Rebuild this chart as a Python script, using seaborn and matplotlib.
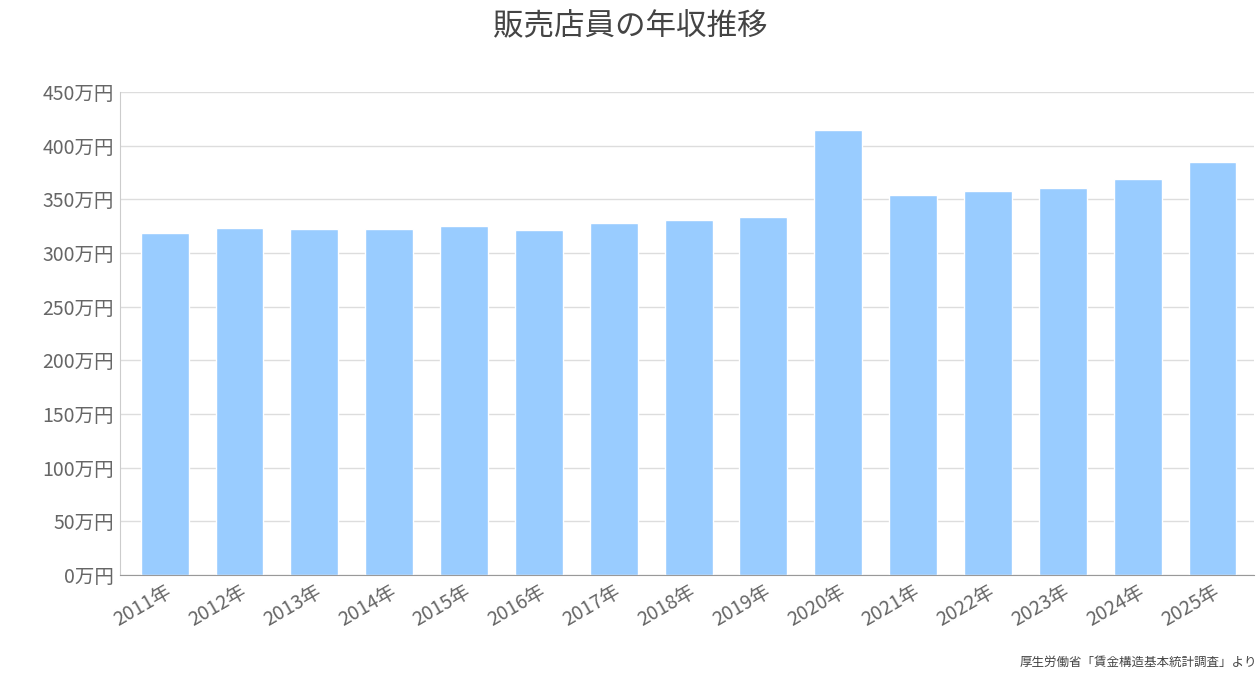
import matplotlib
matplotlib.use("Agg")
import matplotlib.pyplot as plt
import seaborn as sns
import pandas as pd

years = ["2011年","2012年","2013年","2014年","2015年","2016年","2017年","2018年",
         "2019年","2020年","2021年","2022年","2023年","2024年","2025年"]
values = [318.6,323.3,322.4,322.4,325.2,321.4,328.0,330.8,333.5,414.6,354.0,357.8,360.6,369.0,384.8]
yticks = [0,50,100,150,200,250,300,350,400,450]
ylabels = [f"{v}万円" for v in yticks]

sns.set_style("white")
plt.rcParams['font.family'] = ['Noto Sans CJK JP', 'DejaVu Sans']

df = pd.DataFrame({"year": years, "value": values})
fig = plt.figure(figsize=(12.6, 6.82), dpi=100)
ax = fig.add_axes([0.095, 0.157, 0.9, 0.708])
sns.barplot(data=df, x="year", y="value", color="#99CCFF", saturation=1, width=0.64, ax=ax)
ax.set_ylim(0, 450)
ax.set_xlim(-0.6, len(years) - 0.45)
ax.set_yticks(yticks)
ax.set_yticklabels(ylabels, fontsize=14, color="#666666")
ax.set_xticks(range(len(years)))
ax.set_xticklabels(years, rotation=30, ha="right", rotation_mode="anchor", fontsize=14, color="#666666")
ax.grid(axis="y", color="#dddddd", linewidth=1)
ax.set_axisbelow(True)
for s in ["top", "right"]:
    ax.spines[s].set_visible(False)
ax.spines["left"].set_color("#cccccc")
ax.spines["bottom"].set_color("#999999")
ax.tick_params(axis="both", length=0, pad=4)
ax.set_xlabel("")
ax.set_ylabel("")
fig.text(0.5, 0.96, "販売店員の年収推移", ha="center", va="center", fontsize=22, color="#444444")
fig.text(0.998, 0.02, "厚生労働省「賃金構造基本統計調査」より", ha="right", va="bottom", fontsize=9, color="#444444")
fig.savefig("out.png", dpi=100)
